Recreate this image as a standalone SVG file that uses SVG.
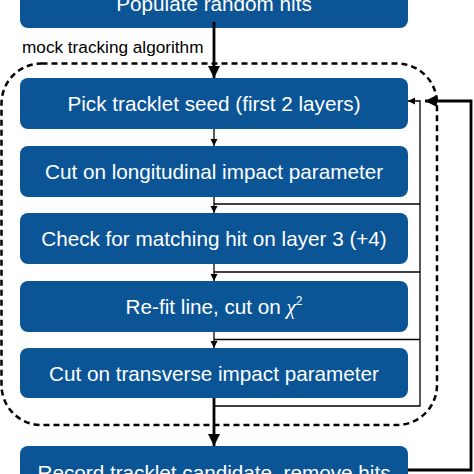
<svg xmlns="http://www.w3.org/2000/svg" width="474" height="474" viewBox="0 0 474 474">
<defs>
<marker id="big" markerUnits="userSpaceOnUse" markerWidth="14" markerHeight="14" refX="12" refY="6" orient="auto"><path d="M0,0 L12,6 L0,12 z" fill="#000"/></marker>
<marker id="small" markerUnits="userSpaceOnUse" markerWidth="8" markerHeight="8" refX="7" refY="3.5" orient="auto"><path d="M0,0 L7,3.5 L0,7 z" fill="#000"/></marker>
<style>
.box{fill:#0b5597}
.t{fill:#fff;font-family:"Liberation Sans",Arial,sans-serif;font-size:20.7px;text-anchor:middle}
.thin{stroke:#000;stroke-width:1.3;fill:none}
.thick{stroke:#000;stroke-width:2.8;fill:none}
</style>
</defs>
<rect x="1.5" y="63.5" width="435.5" height="361.5" rx="40" fill="none" stroke="#000" stroke-width="2.5" stroke-dasharray="6 4"/>
<text x="22" y="53" font-family="Liberation Sans, Arial, sans-serif" font-size="17.2" fill="#000">mock tracking algorithm</text>
<g id="n0"><rect class="box" x="20" y="-30" width="388" height="58" rx="8"/><text class="t" x="214" y="11">Populate random hits</text></g>
<g id="n1"><rect class="box" x="20" y="78" width="388" height="51" rx="8"/><text class="t" x="214" y="111">Pick tracklet seed (first 2 layers)</text></g>
<g id="n2"><rect class="box" x="20" y="146" width="388" height="51" rx="8"/><text class="t" x="214" y="179">Cut on longitudinal impact parameter</text></g>
<g id="n3"><rect class="box" x="20" y="213" width="388" height="51" rx="8"/><text class="t" x="214" y="246">Check for matching hit on layer 3 (+4)</text></g>
<g id="n4"><rect class="box" x="20" y="281" width="388" height="51" rx="8"/><text class="t" x="214" y="314">Re-fit line, cut on <tspan font-family="Liberation Serif, Times New Roman, serif" font-style="italic">χ</tspan><tspan font-size="12" dy="-9">2</tspan></text></g>
<g id="n5"><rect class="box" x="20" y="348" width="388" height="50" rx="8"/><text class="t" x="214" y="381">Cut on transverse impact parameter</text></g>
<g id="n6"><rect class="box" x="20" y="446" width="388" height="60" rx="8"/><text class="t" x="214" y="480">Record tracklet candidate, remove hits</text></g>
<g id="connectors">
<line class="thick" x1="214" y1="22" x2="214" y2="78" marker-end="url(#big)"/>
<line class="thin" x1="214" y1="129" x2="214" y2="146" marker-end="url(#small)"/>
<line class="thin" x1="214" y1="197" x2="214" y2="213" marker-end="url(#small)"/>
<line class="thin" x1="214" y1="264" x2="214" y2="281" marker-end="url(#small)"/>
<line class="thin" x1="214" y1="332" x2="214" y2="348" marker-end="url(#small)"/>
<line class="thick" x1="214" y1="398" x2="214" y2="446" marker-end="url(#big)"/>
<polyline class="thin" points="214,204 420,204"/>
<polyline class="thin" points="214,272 420,272"/>
<polyline class="thin" points="214,339.5 420,339.5"/>
<polyline class="thin" points="214,406 420,406 420,101 408,101" marker-end="url(#small)"/>
<polyline class="thick" points="408,470 471,470 471,101 425,101" marker-end="url(#big)"/>
</g>
</svg>
